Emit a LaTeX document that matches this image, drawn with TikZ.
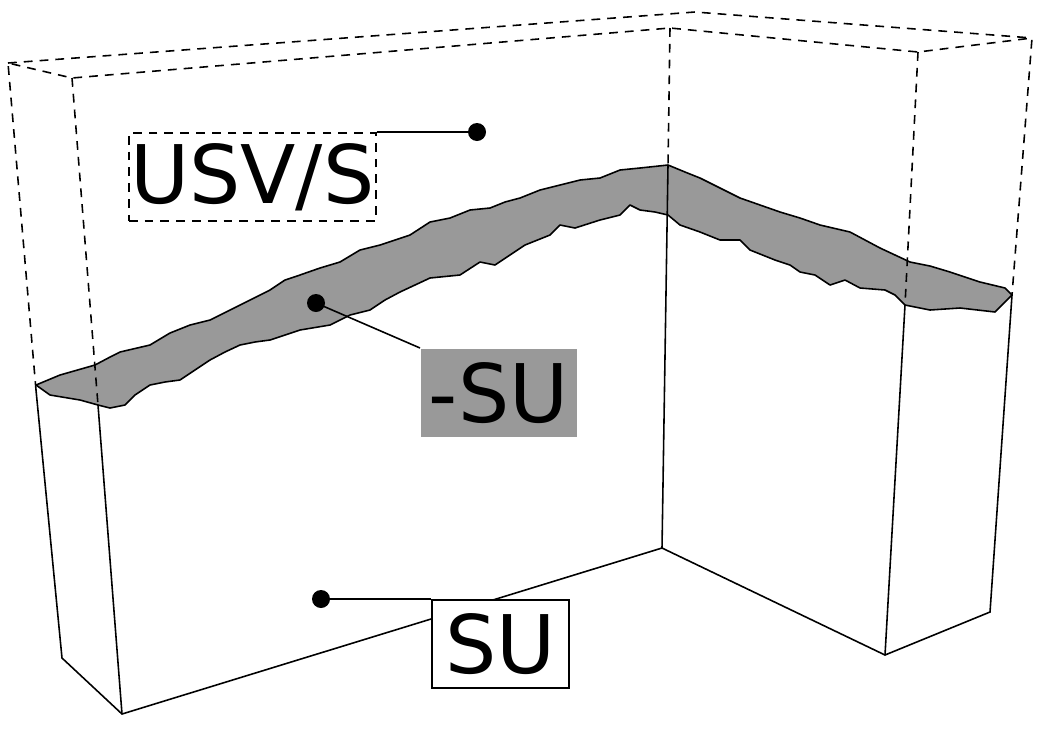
\documentclass[tikz,border=0pt]{standalone}
\usepackage{fontspec}
\setmainfont{DejaVu Sans}
\begin{document}
\begin{tikzpicture}[x=0.02cm,y=-0.02cm,line width=0.9pt,
  dsh/.style={dashed,dash pattern=on 5pt off 4pt},
  lbl/.style={inner sep=0pt,minimum height=88*0.02cm,font=\fontsize{46}{50}\selectfont},
  dotc/.style={circle,fill=black,inner sep=0pt,minimum size=0.36cm}]
\useasboundingbox (0,0) rectangle (1040,738);
% gray band
\fill[gray!80!white,draw=black,line join=round] (36,385)--(60,375)--(95,365)--(112,356)--(120,352)--(150,345)--(170,333)--(190,325)--(210,320)--(230,310)--(250,300)--(270,290)--(285,280)--(300,275)--(320,268)--(340,262)--(360,250)--(380,245)--(395,240)--(410,235)--(430,222)--(450,218)--(470,210)--(490,208)--(505,202)--(520,198)--(540,190)--(560,185)--(580,180)--(600,178)--(620,170)--(640,168)--(668,165)--(685,172)--(700,178)--(720,188)--(740,198)--(760,205)--(780,212)--(800,218)--(820,225)--(850,232)--(865,240)--(880,248)--(910,262)--(930,266)--(950,272)--(980,282)--(1005,288)--(1012,295)--(995,312)--(960,308)--(930,310)--(905,305)--(895,295)--(885,290)--(860,288)--(845,280)--(830,285)--(815,275)--(800,272)--(790,265)--(775,260)--(750,250)--(740,240)--(720,240)--(700,232)--(680,225)--(668,215)--(655,212)--(640,210)--(630,205)--(620,215)--(600,220)--(575,228)--(560,225)--(550,235)--(525,245)--(510,255)--(495,265)--(480,262)--(460,275)--(430,278)--(415,285)--(400,292)--(385,300)--(370,310)--(350,315)--(330,325)--(300,330)--(285,335)--(270,340)--(255,342)--(240,345)--(225,352)--(210,360)--(195,370)--(180,380)--(165,382)--(150,385)--(135,395)--(125,405)--(110,408)--(98,405)--(80,400)--(50,395)--cycle;
% solid block
\draw (36,390)--(62,658)--(122,714)--(662,548)--(885,655)--(990,612)--(1012,295);
\draw (98,405)--(122,714);
\draw (668,165)--(662,548);
\draw (905,305)--(885,655);
% dashed
\draw[dsh] (36,390)--(8,63)--(72,78)--(670,28)--(918,52)--(1032,38)--(1012,295);
\draw[dsh] (8,63)--(695,12)--(1032,38);
\draw[dsh] (72,78)--(98,405);
\draw[dsh] (670,28)--(668,165);
\draw[dsh] (918,52)--(905,305);
% labels
\node[lbl,draw,dsh,minimum width=247*0.02cm,anchor=north west] (usv) at (128,132) {USV/S};
\node[dotc] (d1) at (477,132) {};
\draw (usv.north east)--(d1.center);
\node[lbl,fill=gray!80!white,minimum width=156*0.02cm,anchor=north west] (msu) at (420,348) {-SU};
\node[dotc] (d2) at (316,303) {};
\draw (msu.north west)--(d2.center);
\node[lbl,draw,fill=white,minimum width=137*0.02cm,anchor=north west] (su) at (431,599) {SU};
\node[dotc] (d3) at (321,599) {};
\draw (su.north west)--(d3.center);
\end{tikzpicture}
\end{document}
